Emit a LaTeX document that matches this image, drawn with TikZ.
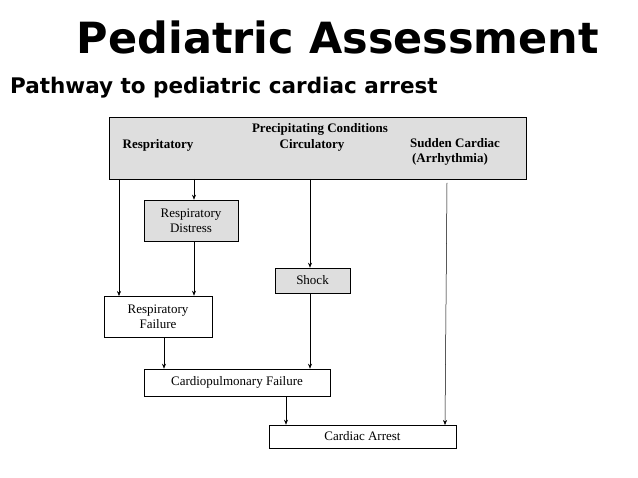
\documentclass[tikz,border=0pt]{standalone}
\usepackage{fontspec}
\setmainfont{Liberation Serif}
\newfontfamily\ttl{DejaVu Sans}
\usetikzlibrary{arrows.meta}
\begin{document}
\begin{tikzpicture}[x=1pt,y=-1pt,
  bx/.style={draw,line width=0.6pt,inner sep=0pt},
  gbx/.style={bx,fill=black!13},
  lbl/.style={font=\fontsize{13}{15}\selectfont,align=center},
  blbl/.style={lbl,font=\fontsize{13}{15}\selectfont\bfseries},
  arr/.style={-{Stealth[length=5pt,width=4pt]},line width=0.5pt}]
\useasboundingbox (0,0) rectangle (638,478);
\node[font=\ttl\bfseries\fontsize{43}{46}\selectfont] (t) at (338,37) {Pediatric Assessment};
\node[font=\ttl\bfseries\fontsize{21.5}{24}\selectfont,anchor=west,inner sep=0pt] (s) at (10,88) {Pathway to pediatric cardiac arrest};
% boxes
\draw[gbx] (109,117) rectangle (526,179);
\node[blbl] (pc) at (320,129) {Precipitating Conditions};
\node[blbl] (resp) at (158,145) {Respritatory};
\node[blbl] (circ) at (312,145) {Circulatory};
\node[blbl] (sud) at (450,152) {\hspace*{10pt}Sudden Cardiac\\(Arrhythmia)};
\node[gbx,minimum width=94pt,minimum height=41pt] (rd) at (191,220.5) {};
\node[lbl] at (rd) {Respiratory\\Distress};
\node[gbx,minimum width=75pt,minimum height=25pt] (sh) at (312.5,280.5) {};
\node[lbl] at (sh) {Shock};
\node[bx,minimum width=108pt,minimum height=41pt] (rf) at (158,316.5) {};
\node[lbl] at (rf) {Respiratory\\Failure};
\node[bx,minimum width=186pt,minimum height=27pt] (cf) at (237,382.5) {};
\node[lbl] at (cf) {Cardiopulmonary Failure};
\node[bx,minimum width=187pt,minimum height=23pt] (ca) at (362.5,436.5) {};
\node[lbl] at (ca) {Cardiac Arrest};
% arrows
\coordinate (a1) at (119,179); \coordinate (a1e) at (119,296);
\coordinate (a2) at (194,179); \coordinate (a3) at (310,179);
\coordinate (a4) at (447,183);
\draw[arr] (a1) -- (a1e);
\draw[arr] (a2) -- (rd.north -| a2);
\draw[arr] (rd.south -| a2) -- (rf.north -| a2);
\draw[arr] (a3) -- (sh.north -| a3);
\draw[arr] (sh.south -| a3) -- (cf.north -| a3);
\draw[arr] (rf.south -| 164,0) -- (cf.north -| 164,0);
\draw[arr] (cf.south -| 286,0) -- (ca.north -| 286,0);
\draw[arr] (a4) -- (445,425);
\end{tikzpicture}
\end{document}
